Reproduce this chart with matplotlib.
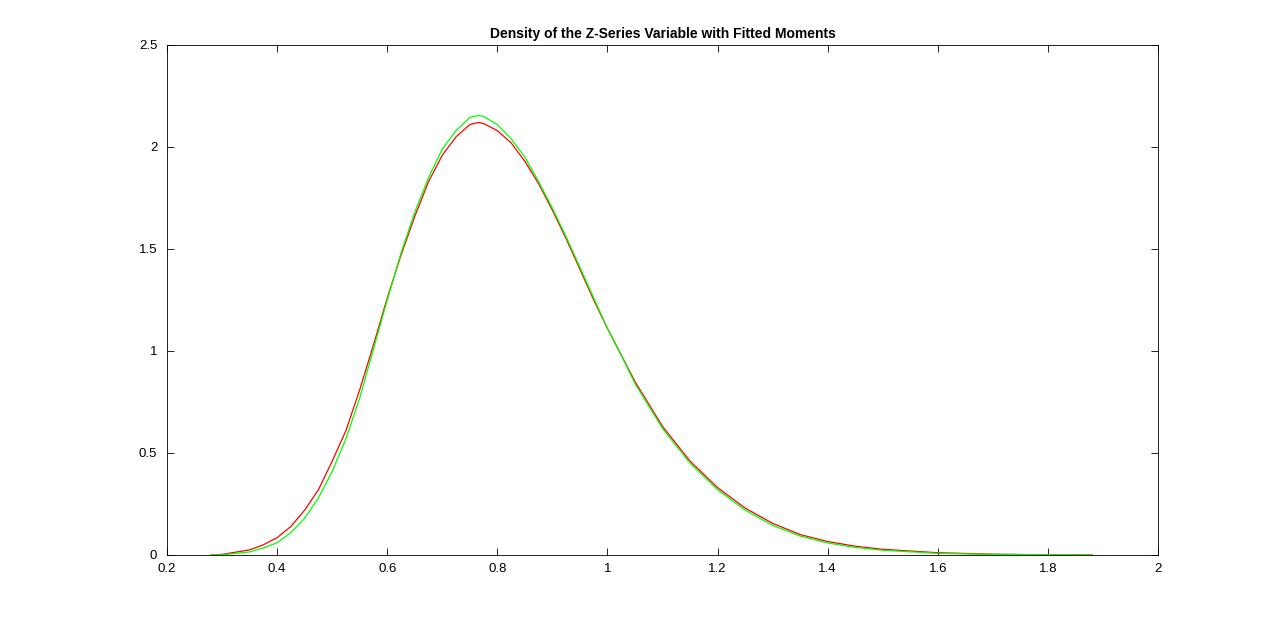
import matplotlib.pyplot as plt

plt.rcParams['font.family'] = ['Liberation Sans', 'DejaVu Sans']

# density
x_red = [0.28, 0.30, 0.35, 0.375, 0.40, 0.425, 0.45, 0.475, 0.50, 0.525, 0.55, 0.575,
         0.60, 0.625, 0.65, 0.675, 0.70, 0.725, 0.75, 0.765, 0.775, 0.80, 0.825,
         0.85, 0.875, 0.90, 0.925, 0.95, 0.975, 1.00, 1.025, 1.05, 1.10, 1.15, 1.20,
         1.25, 1.30, 1.35, 1.40, 1.45, 1.50, 1.60, 1.70, 1.80, 1.88]
y_red = [0.0, 0.003, 0.025, 0.05, 0.085, 0.14, 0.22, 0.32, 0.46, 0.61, 0.81, 1.03,
         1.26, 1.47, 1.66, 1.83, 1.96, 2.05, 2.11, 2.12, 2.115, 2.08, 2.02,
         1.93, 1.82, 1.69, 1.55, 1.40, 1.25, 1.11, 0.98, 0.85, 0.63, 0.46, 0.33,
         0.23, 0.155, 0.10, 0.066, 0.043, 0.028, 0.011, 0.004, 0.001, 0.0]
x_green = x_red
y_green = [0.0, 0.001, 0.015, 0.035, 0.06, 0.11, 0.18, 0.28, 0.41, 0.57, 0.77, 1.01,
           1.25, 1.48, 1.68, 1.85, 1.99, 2.08, 2.145, 2.155, 2.15, 2.11, 2.04,
           1.95, 1.83, 1.70, 1.56, 1.41, 1.26, 1.11, 0.98, 0.84, 0.62, 0.45, 0.32,
           0.22, 0.145, 0.093, 0.059, 0.037, 0.023, 0.008, 0.003, 0.001, 0.0]

fig = plt.figure(figsize=(12.8, 6.24), dpi=100)
ax = fig.add_axes([0.1305, 0.1106, 0.7742, 0.8173])
ax.plot(x_red, y_red, color='#ff0000', lw=0.9)
ax.plot(x_green, y_green, color='#00ff00', lw=0.9)
ax.set_xlim(0.2, 2)
ax.set_ylim(0, 2.5)
ax.set_xticks([0.2, 0.4, 0.6, 0.8, 1, 1.2, 1.4, 1.6, 1.8, 2])
ax.set_xticklabels(['0.2', '0.4', '0.6', '0.8', '1', '1.2', '1.4', '1.6', '1.8', '2'])
ax.set_yticks([0, 0.5, 1, 1.5, 2, 2.5])
ax.set_yticklabels(['0', '0.5', '1', '1.5', '2', '2.5'])
ax.tick_params(direction='in', top=True, right=True, labelsize=9.5, length=5, width=0.6)
ax.tick_params(axis='x', pad=6)
ax.tick_params(axis='y', pad=7)
for s in ax.spines.values():
    s.set_linewidth(0.6)
ax.set_title('Density of the Z-Series Variable with Fitted Moments', fontsize=10, fontweight='bold', pad=5)
fig.savefig('out.png', dpi=100)
